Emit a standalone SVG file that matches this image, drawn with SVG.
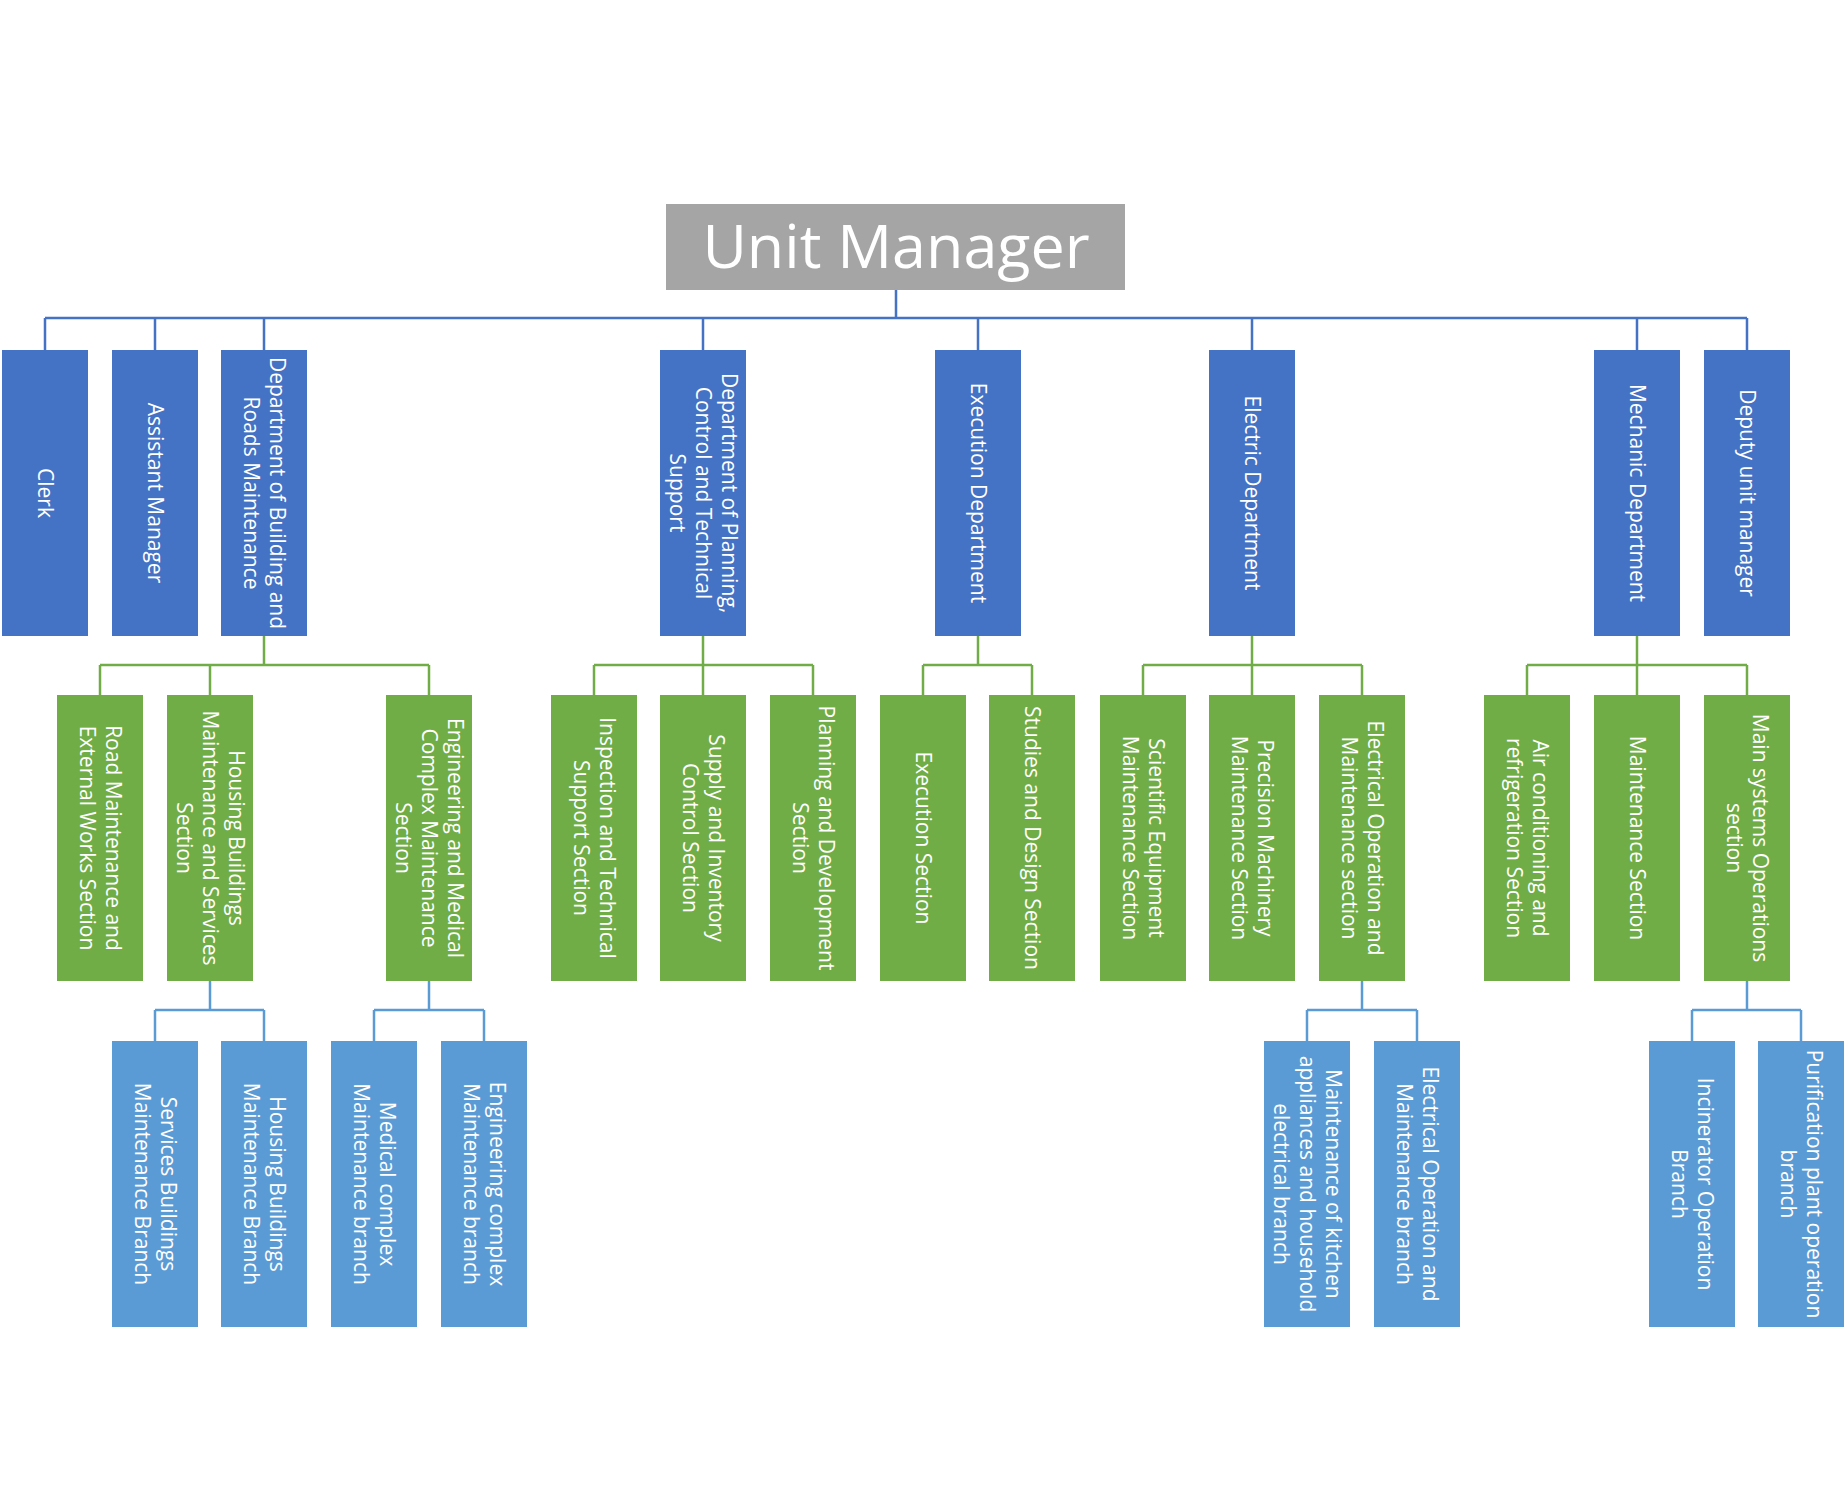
<svg xmlns="http://www.w3.org/2000/svg" width="1846" height="1489" viewBox="0 0 1846 1489">
<style>
.b{fill:#4472C4}.g{fill:#70AD47}.l{fill:#5B9BD5}
text{font-family:"Open Sans","Noto Sans",sans-serif;fill:#fff;font-size:21px;text-anchor:middle}
.cb{stroke:#4472C4;stroke-width:2.5;fill:none}.cg{stroke:#70AD47;stroke-width:2.5;fill:none}.cl{stroke:#5B9BD5;stroke-width:2.5;fill:none}
</style>
<rect width="1846" height="1489" fill="#fff"/>
<g id="connectors">
<path class="cb" d="M896 290V318M45 318H1747M45 318V350M155 318V350M264 318V350M703 318V350M978 318V350M1252 318V350M1637 318V350M1747 318V350"/>
<path class="cg" d="M264 636V665M100 665H429M100 665V695M210 665V695M429 665V695M703 636V695M594 665H813M594 665V695M813 665V695M978 636V665M923 665H1032M923 665V695M1032 665V695M1252 636V695M1143 665H1362M1143 665V695M1362 665V695M1637 636V695M1527 665H1747M1527 665V695M1747 665V695"/>
<path class="cl" d="M210 981V1010M155 1010H264M155 1010V1041M264 1010V1041M429 981V1010M374 1010H484M374 1010V1041M484 1010V1041M1362 981V1010M1307 1010H1417M1307 1010V1041M1417 1010V1041M1747 981V1010M1692 1010H1801M1692 1010V1041M1801 1010V1041"/>
</g>
<g id="unit-manager"><rect x="666" y="204" width="459" height="86" fill="#A5A5A5"/><text x="896" y="268" style="font-size:61px">Unit Manager</text></g>
<g id="clerk"><rect class="b" x="2" y="350" width="86" height="286"/><text transform="translate(45 493) rotate(90)" y="7">Clerk</text></g>
<g id="assistant-manager"><rect class="b" x="112" y="350" width="86" height="286"/><text transform="translate(155 493) rotate(90)" y="7">Assistant Manager</text></g>
<g id="dept-building"><rect class="b" x="221" y="350" width="86" height="286"/><text transform="translate(264 493) rotate(90)"><tspan x="0" y="-6">Department of Building and</tspan><tspan x="0" y="20">Roads Maintenance</tspan></text></g>
<g id="dept-planning"><rect class="b" x="660" y="350" width="86" height="286"/><text transform="translate(703 493) rotate(90)"><tspan x="0" y="-19">Department of Planning,</tspan><tspan x="0" y="7">Control and Technical</tspan><tspan x="0" y="33">Support</tspan></text></g>
<g id="execution-dept"><rect class="b" x="935" y="350" width="86" height="286"/><text transform="translate(978 493) rotate(90)" y="7">Execution Department</text></g>
<g id="electric-dept"><rect class="b" x="1209" y="350" width="86" height="286"/><text transform="translate(1252 493) rotate(90)" y="7">Electric Department</text></g>
<g id="mechanic-dept"><rect class="b" x="1594" y="350" width="86" height="286"/><text transform="translate(1637 493) rotate(90)" y="7">Mechanic Department</text></g>
<g id="deputy"><rect class="b" x="1704" y="350" width="86" height="286"/><text transform="translate(1747 493) rotate(90)" y="7">Deputy unit manager</text></g>

<g id="road"><rect class="g" x="57" y="695" width="86" height="286"/><text transform="translate(100 838) rotate(90)"><tspan x="0" y="-6">Road Maintenance and</tspan><tspan x="0" y="20">External Works Section</tspan></text></g>
<g id="housing-section"><rect class="g" x="167" y="695" width="86" height="286"/><text transform="translate(210 838) rotate(90)"><tspan x="0" y="-19">Housing Buildings</tspan><tspan x="0" y="7">Maintenance and Services</tspan><tspan x="0" y="33">Section</tspan></text></g>
<g id="eng-medical-section"><rect class="g" x="386" y="695" width="86" height="286"/><text transform="translate(429 838) rotate(90)"><tspan x="0" y="-19">Engineering and Medical</tspan><tspan x="0" y="7">Complex Maintenance</tspan><tspan x="0" y="33">Section</tspan></text></g>
<g id="inspection"><rect class="g" x="551" y="695" width="86" height="286"/><text transform="translate(594 838) rotate(90)"><tspan x="0" y="-6">Inspection and Technical</tspan><tspan x="0" y="20">Support Section</tspan></text></g>
<g id="supply"><rect class="g" x="660" y="695" width="86" height="286"/><text transform="translate(703 838) rotate(90)"><tspan x="0" y="-6">Supply and Inventory</tspan><tspan x="0" y="20">Control Section</tspan></text></g>
<g id="planning-dev"><rect class="g" x="770" y="695" width="86" height="286"/><text transform="translate(813 838) rotate(90)"><tspan x="0" y="-6">Planning and Development</tspan><tspan x="0" y="20">Section</tspan></text></g>
<g id="execution-section"><rect class="g" x="880" y="695" width="86" height="286"/><text transform="translate(923 838) rotate(90)" y="7">Execution Section</text></g>
<g id="studies"><rect class="g" x="989" y="695" width="86" height="286"/><text transform="translate(1032 838) rotate(90)" y="7">Studies and Design Section</text></g>
<g id="scientific"><rect class="g" x="1100" y="695" width="86" height="286"/><text transform="translate(1143 838) rotate(90)"><tspan x="0" y="-6">Scientific Equipment</tspan><tspan x="0" y="20">Maintenance Section</tspan></text></g>
<g id="precision"><rect class="g" x="1209" y="695" width="86" height="286"/><text transform="translate(1252 838) rotate(90)"><tspan x="0" y="-6">Precision Machinery</tspan><tspan x="0" y="20">Maintenance Section</tspan></text></g>
<g id="electrical-op-section"><rect class="g" x="1319" y="695" width="86" height="286"/><text transform="translate(1362 838) rotate(90)"><tspan x="0" y="-6">Electrical Operation and</tspan><tspan x="0" y="20">Maintenance section</tspan></text></g>
<g id="air"><rect class="g" x="1484" y="695" width="86" height="286"/><text transform="translate(1527 838) rotate(90)"><tspan x="0" y="-6">Air conditioning and</tspan><tspan x="0" y="20">refrigeration Section</tspan></text></g>
<g id="maintenance-section"><rect class="g" x="1594" y="695" width="86" height="286"/><text transform="translate(1637 838) rotate(90)" y="7">Maintenance Section</text></g>
<g id="main-systems"><rect class="g" x="1704" y="695" width="86" height="286"/><text transform="translate(1747 838) rotate(90)"><tspan x="0" y="-6">Main systems Operations</tspan><tspan x="0" y="20">section</tspan></text></g>

<g id="services-branch"><rect class="l" x="112" y="1041" width="86" height="286"/><text transform="translate(155 1184) rotate(90)"><tspan x="0" y="-6">Services Buildings</tspan><tspan x="0" y="20">Maintenance Branch</tspan></text></g>
<g id="housing-branch"><rect class="l" x="221" y="1041" width="86" height="286"/><text transform="translate(264 1184) rotate(90)"><tspan x="0" y="-6">Housing Buildings</tspan><tspan x="0" y="20">Maintenance Branch</tspan></text></g>
<g id="medical-branch"><rect class="l" x="331" y="1041" width="86" height="286"/><text transform="translate(374 1184) rotate(90)"><tspan x="0" y="-6">Medical complex</tspan><tspan x="0" y="20">Maintenance branch</tspan></text></g>
<g id="eng-branch"><rect class="l" x="441" y="1041" width="86" height="286"/><text transform="translate(484 1184) rotate(90)"><tspan x="0" y="-6">Engineering complex</tspan><tspan x="0" y="20">Maintenance branch</tspan></text></g>
<g id="kitchen-branch"><rect class="l" x="1264" y="1041" width="86" height="286"/><text transform="translate(1307 1184) rotate(90)"><tspan x="0" y="-19">Maintenance of kitchen</tspan><tspan x="0" y="7">appliances and household</tspan><tspan x="0" y="33">electrical branch</tspan></text></g>
<g id="elec-op-branch"><rect class="l" x="1374" y="1041" width="86" height="286"/><text transform="translate(1417 1184) rotate(90)"><tspan x="0" y="-6">Electrical Operation and</tspan><tspan x="0" y="20">Maintenance branch</tspan></text></g>
<g id="incinerator"><rect class="l" x="1649" y="1041" width="86" height="286"/><text transform="translate(1692 1184) rotate(90)"><tspan x="0" y="-6">Incinerator Operation</tspan><tspan x="0" y="20">Branch</tspan></text></g>
<g id="purification"><rect class="l" x="1758" y="1041" width="86" height="286"/><text transform="translate(1801 1184) rotate(90)"><tspan x="0" y="-6">Purification plant operation</tspan><tspan x="0" y="20">branch</tspan></text></g>
</svg>
